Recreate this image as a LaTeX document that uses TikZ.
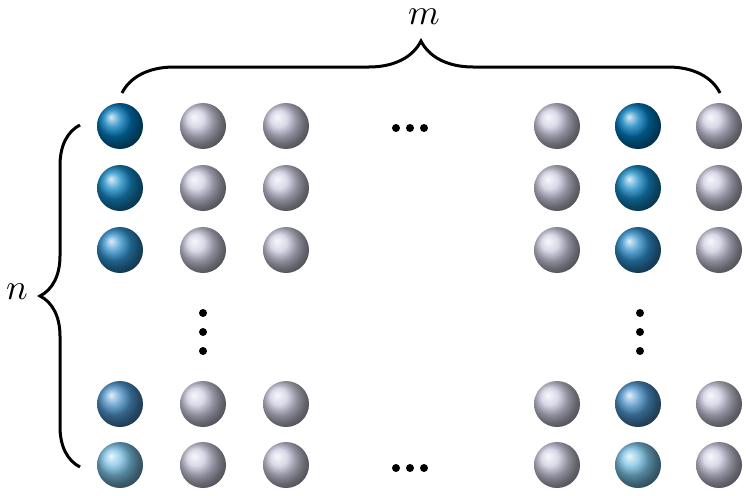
\documentclass[tikz,border=0pt]{standalone}
\usetikzlibrary{decorations.pathreplacing}
\begin{document}
\begin{tikzpicture}[x=1pt,y=-1pt,
  ball/.style={circle,minimum size=46pt,inner sep=0pt,shading=ball,ball color=#1},
  lab/.style={scale=3.6,inner sep=0pt},
  pt/.style={circle,fill=black,minimum size=8pt,inner sep=0pt},
  br/.style={line width=3pt,decorate,decoration={brace,amplitude=#1}}]
\definecolor{gb}{RGB}{205,205,225}
\definecolor{b1}{RGB}{0,120,185}
\definecolor{b2}{RGB}{20,135,195}
\definecolor{b3}{RGB}{45,140,200}
\definecolor{b4}{RGB}{75,145,200}
\definecolor{b5}{RGB}{120,190,225}
\useasboundingbox (0,0) rectangle (746,495);
\foreach \r/\y/\c in {1/126/b1,2/188/b2,3/250/b3,4/404/b4,5/465/b5}{
  \node[ball=\c] (a\r) at (120,\y) {};
  \node[ball=gb] (b\r) at (203,\y) {};
  \node[ball=gb] (c\r) at (286,\y) {};
  \node[ball=gb] (d\r) at (557,\y) {};
  \node[ball=\c] (e\r) at (638,\y) {};
  \node[ball=gb] (f\r) at (719,\y) {};
}
\foreach \i/\x in {1/396,2/410,3/424}{
  \node[pt] (h\i) at (\x,128) {};
  \node[pt] (k\i) at (\x,468) {};
}
\foreach \i/\y in {1/313,2/332,3/351}{
  \node[pt] (v\i) at (203,\y) {};
  \node[pt] (w\i) at (640,\y) {};
}
\coordinate (t1) at (122,93); \coordinate (t2) at (720,93);
\draw[br=52pt] (t1) -- (t2);
\coordinate (l1) at (80,467); \coordinate (l2) at (80,125);
\draw[br=40pt] (l1) -- (l2);
\node[lab] (m) at (424,17) {$m$};
\node[lab] (n) at (17,292) {$n$};
\end{tikzpicture}
\end{document}
